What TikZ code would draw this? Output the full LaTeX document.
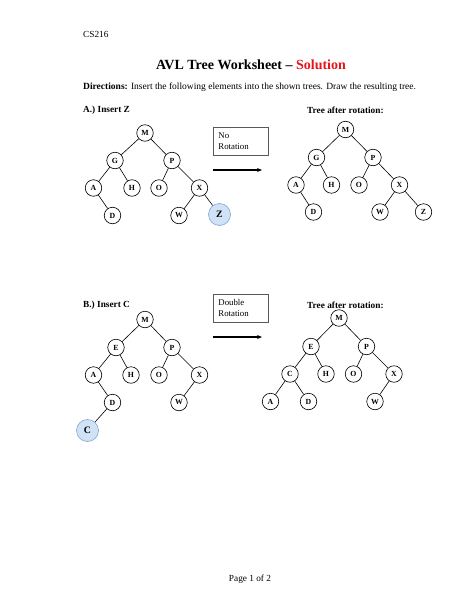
\documentclass[tikz,border=0pt]{standalone}
\usepackage{fontspec}
\setmainfont{Liberation Serif}
\usetikzlibrary{arrows.meta}
\definecolor{insfill}{RGB}{207,226,246}
\definecolor{insdraw}{RGB}{130,165,210}
\definecolor{solred}{RGB}{230,20,30}
\tikzset{
  nd/.style={circle,draw,line width=0.6pt,inner sep=0pt,minimum size=16.5pt,font=\fontsize{7.8}{9}\selectfont\bfseries},
  ins/.style={circle,draw=insdraw,fill=insfill,line width=0.6pt,inner sep=0pt,minimum size=22pt,font=\fontsize{9.8}{11}\selectfont\bfseries},
  edge/.style={line width=0.6pt},
  txt/.style={inner sep=0pt,font=\fontsize{9.3}{11}\selectfont},
  hd/.style={inner sep=0pt,font=\fontsize{9.3}{11}\selectfont\bfseries},
  rotbox/.style={draw=black!65,line width=0.8pt,minimum width=55.5pt,minimum height=28pt,inner xsep=5.5pt,text width=44.5pt,align=left,anchor=north west,font=\fontsize{8.8}{11}\selectfont},
  arr/.style={line width=1.3pt,-{Stealth[length=5pt,width=4pt]}}
}
\begin{document}
\begin{tikzpicture}[x=1pt,y=-1pt]
\useasboundingbox (0,0) rectangle (474,613);
\node[txt,anchor=west] (cs) at (83,34) {CS216};
\node[inner sep=0pt,font=\fontsize{14}{16}\selectfont\bfseries] (title) at (251,65) {AVL Tree Worksheet -- \textcolor{solred}{Solution}};
\node[inner sep=0pt,font=\fontsize{9.5}{11}\selectfont,anchor=west] (dir) at (83,87) {\textbf{Directions:} Insert the following elements into the shown trees. Draw the resulting tree.};
\node[hd,anchor=west] (ha) at (83,110) {A.) Insert Z};
\node[hd,anchor=west] (hra) at (307,110) {Tree after rotation:};
\node[hd,anchor=west] (hb) at (83,305) {B.) Insert C};
\node[hd,anchor=west] (hrb) at (307,305) {Tree after rotation:};
\node[txt] (page) at (250,579) {Page 1 of 2};

% boxes and arrows
\node[rotbox] (boxa) at (212.5,127) {No\\Rotation};
\coordinate (a1) at (212.5,170);
\coordinate (a2) at (262,170);
\draw[arr] (a1) -- (a2);
\node[rotbox] (boxb) at (212.5,294) {Double\\Rotation};
\coordinate (b1) at (212.5,337);
\coordinate (b2) at (262,337);
\draw[arr] (b1) -- (b2);

% Tree A left
\node[nd] (aM) at (145,133) {M};
\node[nd] (aG) at (115,160.5) {G};
\node[nd] (aP) at (172,160.5) {P};
\node[nd] (aA) at (93.5,188) {A};
\node[nd] (aH) at (132,188) {H};
\node[nd] (aO) at (159,188) {O};
\node[nd] (aX) at (199.5,188) {X};
\node[nd] (aD) at (112.5,215.5) {D};
\node[nd] (aW) at (179,215.5) {W};
\node[ins] (aZ) at (219.5,214.5) {Z};
\draw[edge] (aM)--(aG) (aM)--(aP) (aG)--(aA) (aG)--(aH) (aA)--(aD)
  (aP)--(aO) (aP)--(aX) (aX)--(aW) (aX)--(aZ);

% Tree A right
\node[nd] (rM) at (345.5,129.5) {M};
\node[nd] (rG) at (316.5,157.5) {G};
\node[nd] (rP) at (373,157.5) {P};
\node[nd] (rA) at (296,185) {A};
\node[nd] (rH) at (331.5,185) {H};
\node[nd] (rO) at (359,185) {O};
\node[nd] (rX) at (399.5,185) {X};
\node[nd] (rD) at (313.5,212) {D};
\node[nd] (rW) at (380,212) {W};
\node[nd] (rZ) at (423.5,212) {Z};
\draw[edge] (rM)--(rG) (rM)--(rP) (rG)--(rA) (rG)--(rH) (rA)--(rD)
  (rP)--(rO) (rP)--(rX) (rX)--(rW) (rX)--(rZ);

% Tree B left
\node[nd] (bM) at (145,319.5) {M};
\node[nd] (bE) at (116,347.5) {E};
\node[nd] (bP) at (172,347.5) {P};
\node[nd] (bA) at (93.5,375) {A};
\node[nd] (bH) at (131,375) {H};
\node[nd] (bO) at (159,375) {O};
\node[nd] (bX) at (199.5,375) {X};
\node[nd] (bD) at (112.5,402.5) {D};
\node[nd] (bW) at (179,402.5) {W};
\node[ins] (bC) at (87.5,430.5) {C};
\draw[edge] (bM)--(bE) (bM)--(bP) (bE)--(bA) (bE)--(bH) (bA)--(bD) (bD)--(bC)
  (bP)--(bO) (bP)--(bX) (bX)--(bW);

% Tree B right
\node[nd] (sM) at (339,318) {M};
\node[nd] (sE) at (311,346.5) {E};
\node[nd] (sP) at (366.5,346.5) {P};
\node[nd] (sC) at (290,374) {C};
\node[nd] (sH) at (326,374) {H};
\node[nd] (sO) at (353.5,374) {O};
\node[nd] (sX) at (394,374) {X};
\node[nd] (sA) at (270.5,401.5) {A};
\node[nd] (sD) at (308.5,401.5) {D};
\node[nd] (sW) at (375,401.5) {W};
\draw[edge] (sM)--(sE) (sM)--(sP) (sE)--(sC) (sE)--(sH) (sC)--(sA) (sC)--(sD)
  (sP)--(sO) (sP)--(sX) (sX)--(sW);
\end{tikzpicture}
\end{document}
